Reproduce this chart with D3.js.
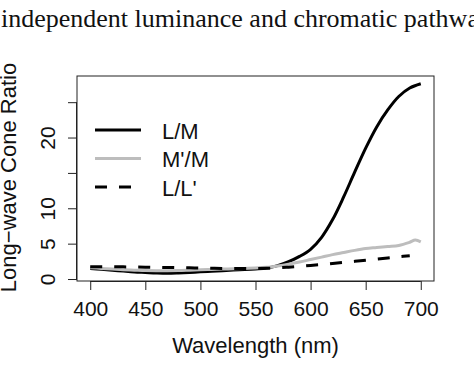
<!DOCTYPE html>
<html><head><meta charset="utf-8">
<script src="https://cdn.jsdelivr.net/npm/d3@7"></script>
<style>
html,body{margin:0;padding:0;background:#fff;}
svg{display:block;}
</style></head>
<body>
<script>
// ---- data ----
const caption = "independent luminance and chromatic pathway";
const wavelength = [400,410,420,430,440,450,460,470,480,490,500,510,520,530,540,550,560,570,580,590,600,610,620,630,640,650,660,670,680,690,700];
const ratioLM = [1.5,1.38,1.25,1.12,1.0,0.92,0.84,0.8,0.85,0.93,1.02,1.1,1.18,1.26,1.33,1.42,1.55,1.9,2.45,3.2,4.2,5.9,8.4,11.6,15.1,18.5,21.5,23.9,25.8,27.0,27.6];
const wavelengthMpM = [400,410,420,430,440,450,460,470,480,490,500,510,520,530,540,550,560,570,580,590,600,610,620,630,640,650,660,670,680,690,695,700];
const ratioMpM = [1.6,1.5,1.4,1.3,1.25,1.2,1.18,1.18,1.2,1.25,1.3,1.35,1.4,1.45,1.5,1.55,1.65,1.85,2.1,2.4,2.75,3.1,3.45,3.75,4.05,4.3,4.45,4.6,4.75,5.2,5.5,5.25];
const wavelengthLLp = [400,410,420,430,440,450,460,470,480,490,500,510,520,530,540,550,560,570,580,590,600,610,620,630,640,650,660,670,680,690];
const ratioLLp = [1.75,1.75,1.75,1.72,1.7,1.68,1.65,1.63,1.6,1.58,1.55,1.53,1.5,1.5,1.5,1.5,1.52,1.58,1.68,1.8,1.92,2.05,2.2,2.35,2.5,2.65,2.8,2.97,3.15,3.3];
const seriesNames = ["L/M","M'/M","L/L'"];
const xTicks = [400,450,500,550,600,650,700];
const yTicks = [0,5,10,15,20,25];
const yTickLabels = ["0","5","10","","20",""];
const xTitle = "Wavelength (nm)";
const yTitle = "Long\u2212wave Cone Ratio";

// ---- layout ----
const W = 474, H = 378;
const box = {left:77, right:434, top:76, bottom:281};
const svg = d3.select("body").append("svg").attr("width",W).attr("height",H);

const x = d3.scaleLinear().domain([388,712]).range([box.left,box.right]);
const y = d3.scaleLinear().domain([-0.28,28.7]).range([box.bottom,box.top]);

// caption
svg.append("text").attr("x",1).attr("y",27)
  .attr("font-family","'Liberation Serif','Times New Roman',serif")
  .attr("font-size",26).attr("fill","#111").text(caption);

const sans = "'Liberation Sans',Arial,Helvetica,sans-serif";

// box
svg.append("rect").attr("x",box.left).attr("y",box.top)
  .attr("width",box.right-box.left).attr("height",box.bottom-box.top)
  .attr("fill","none").attr("stroke","#222").attr("stroke-width",1);

// x axis
const xAxis = d3.axisBottom(x).tickValues(xTicks).tickSize(9).tickPadding(8).tickSizeOuter(0);
const gx = svg.append("g").attr("transform",`translate(0,${box.bottom})`).call(xAxis);
gx.select(".domain").attr("d",`M${x(400)},0.5H${x(700)}`).attr("stroke","#222");
gx.selectAll(".tick line").attr("stroke","#222");
gx.selectAll(".tick text").attr("font-family",sans).attr("font-size",21).attr("fill","#111")
  .attr("dy",null).attr("y",35);

// y axis
const yAxis = d3.axisLeft(y).tickValues(yTicks).tickSize(9).tickSizeOuter(0)
  .tickFormat((d,i)=>yTickLabels[i]);
const gy = svg.append("g").attr("transform",`translate(${box.left},0)`).call(yAxis);
gy.select(".domain").attr("d",`M-0.5,${y(0)}V${y(25)}`).attr("stroke","#222");
gy.selectAll(".tick line").attr("stroke","#222");
gy.selectAll(".tick text").attr("font-family",sans).attr("font-size",21).attr("fill","#111")
  .attr("x",null).attr("dy",null).attr("text-anchor","middle")
  .attr("transform","translate(-22,0) rotate(-90)");

// titles
svg.append("text").attr("x",(box.left+box.right)/2).attr("y",353)
  .attr("text-anchor","middle").attr("font-family",sans).attr("font-size",22)
  .attr("fill","#111").text(xTitle);
svg.append("text").attr("transform",`translate(16,${(box.top+box.bottom)/2-1}) rotate(-90)`)
  .attr("text-anchor","middle").attr("font-family",sans).attr("font-size",22)
  .attr("fill","#111").text(yTitle);

// series
const styles = [
  {stroke:"#000", dash:null},
  {stroke:"#bdbdbd", dash:null},
  {stroke:"#000", dash:"12,12"}
];
const series = [
  {name:seriesNames[0], xs:wavelength, ys:ratioLM},
  {name:seriesNames[1], xs:wavelengthMpM, ys:ratioMpM},
  {name:seriesNames[2], xs:wavelengthLLp, ys:ratioLLp}
];
const line = d3.line().x(d=>x(d[0])).y(d=>y(d[1])).curve(d3.curveCatmullRom.alpha(0.5));
const plot = svg.append("g");
series.forEach((s,i)=>{
  plot.append("path").datum(s.xs.map((w,j)=>[w,s.ys[j]]))
    .attr("d",line).attr("fill","none")
    .attr("stroke",styles[i].stroke).attr("stroke-width",3)
    .attr("stroke-dasharray",styles[i].dash).attr("stroke-linejoin","round");
});

// legend
const lg = svg.append("g").attr("transform","translate(95,130)");
series.forEach((s,i)=>{
  const yy = i*28.5;
  lg.append("line").attr("x1",0).attr("x2",46).attr("y1",yy).attr("y2",yy)
    .attr("stroke",styles[i].stroke).attr("stroke-width",3)
    .attr("stroke-dasharray",styles[i].dash);
  lg.append("text").attr("x",67).attr("y",yy+8.5)
    .attr("font-family",sans).attr("font-size",22).attr("fill","#111").text(s.name);
});
</script>
</body></html>
